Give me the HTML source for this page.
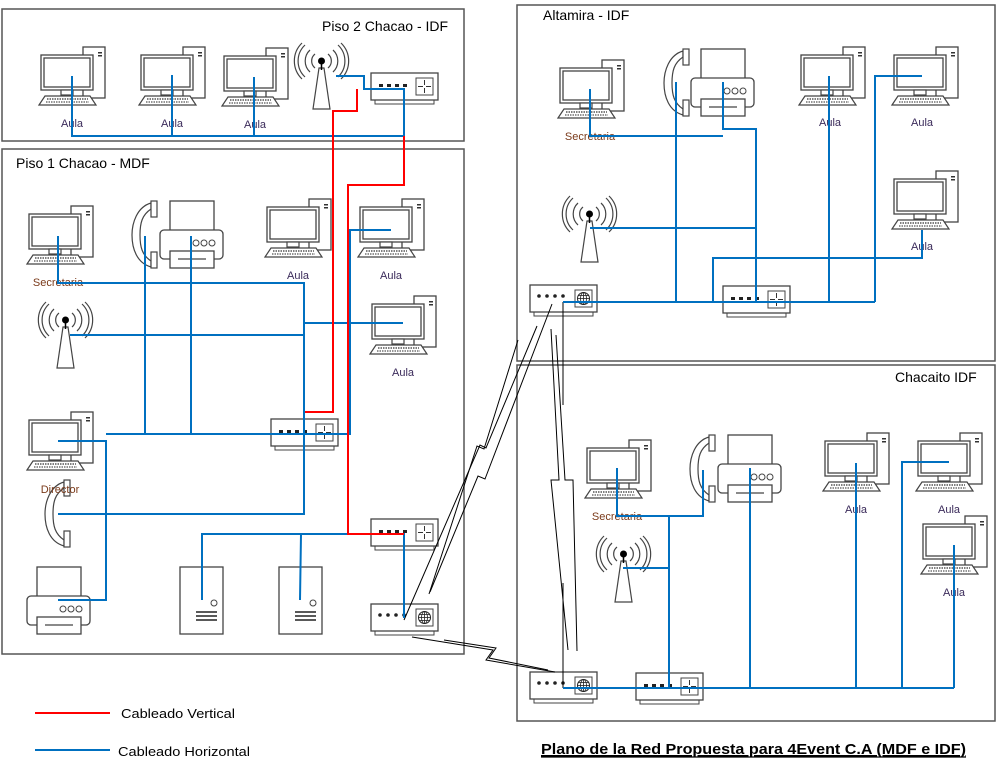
<!DOCTYPE html>
<html><head><meta charset="utf-8"><style>
html,body{margin:0;padding:0;background:#fff;}
svg{display:block;}
text{font-family:"Liberation Sans",sans-serif;}
</style></head><body>
<svg width="997" height="769" viewBox="0 0 997 769" xmlns="http://www.w3.org/2000/svg">
<defs>
<symbol id="pc" overflow="visible">
 <rect x="44" y="0" width="22" height="51" fill="#fff" stroke="#444" stroke-width="1.3"/>
 <rect x="59" y="5" width="4" height="1.5" fill="#333"/><rect x="59" y="8" width="4" height="1.5" fill="#333"/>
 <rect x="2" y="8" width="52" height="35" fill="#fff" stroke="#444" stroke-width="1.3"/>
 <rect x="5" y="11" width="46" height="29" fill="#fff" stroke="#444" stroke-width="1.3"/>
 <rect x="22" y="43" width="12" height="5" fill="#fff" stroke="#444" stroke-width="1.2"/>
 <polygon points="0,58 6,49 51,49 57,58" fill="#fff" stroke="#444" stroke-width="1.2"/>
 <line x1="8" y1="52" x2="49" y2="52" stroke="#555" stroke-width="1.5" stroke-dasharray="1.5,1"/>
 <line x1="7" y1="55" x2="50" y2="55" stroke="#555" stroke-width="1.2" stroke-dasharray="1.5,1"/>
</symbol>
<symbol id="printer" overflow="visible">
 <rect x="10" y="0" width="44" height="30" fill="#fff" stroke="#444" stroke-width="1.3"/>
 <rect x="0" y="29" width="63" height="29" rx="4" fill="#fff" stroke="#444" stroke-width="1.3"/>
 <circle cx="36" cy="42" r="3" fill="none" stroke="#444"/><circle cx="44" cy="42" r="3" fill="none" stroke="#444"/><circle cx="52" cy="42" r="3" fill="none" stroke="#444"/>
 <rect x="10" y="50" width="44" height="17" fill="#fff" stroke="#444" stroke-width="1.3"/>
 <line x1="18" y1="58" x2="46" y2="58" stroke="#444" stroke-width="1.3"/>
</symbol>
<symbol id="phone" overflow="visible">
 <path d="M19,2 C5,6 0,22 0,34 C0,48 5,62 19,66 L19,60 C10,54 8,46 8,34 C8,22 10,14 19,8 Z" fill="#fff" stroke="#444" stroke-width="1.2"/>
 <rect x="19" y="0" width="6" height="16" fill="#fff" stroke="#444" stroke-width="1.2"/>
 <rect x="19" y="51" width="6" height="16" fill="#fff" stroke="#444" stroke-width="1.2"/>
</symbol>
<symbol id="ant" overflow="visible">
 <polygon points="14,67 31,67 25,26 20,26" fill="#fff" stroke="#444" stroke-width="1.2"/>
 <line x1="22.5" y1="20" x2="22.5" y2="28" stroke="#000" stroke-width="1.5"/>
 <circle cx="22.5" cy="19" r="3.5" fill="#000"/>
 <g fill="none" stroke="#444" stroke-width="1.2">
 <path d="M16,12 A9,9 0 0 0 16,26"/><path d="M29,12 A9,9 0 0 1 29,26"/>
 <path d="M11,8 A15,15 0 0 0 11,30"/><path d="M34,8 A15,15 0 0 1 34,30"/>
 <path d="M6,3 A22,22 0 0 0 6,35"/><path d="M39,3 A22,22 0 0 1 39,35"/>
 <path d="M3,1 A25,25 0 0 0 3,37"/><path d="M42,1 A25,25 0 0 1 42,37"/>
 </g>
</symbol>
<symbol id="sw" overflow="visible">
 <rect x="4" y="27" width="59" height="4" fill="#fff" stroke="#444"/>
 <rect x="0" y="0" width="67" height="27" fill="#fff" stroke="#444" stroke-width="1.3"/>
 <g fill="#222"><rect x="8" y="11" width="4" height="3"/><rect x="16" y="11" width="4" height="3"/><rect x="24" y="11" width="4" height="3"/><rect x="32" y="11" width="4" height="3"/></g>
 <rect x="45" y="5" width="17" height="17" fill="#fff" stroke="#444"/>
 <g stroke="#333" stroke-width="1"><line x1="53.5" y1="7" x2="53.5" y2="12"/><line x1="53.5" y1="15" x2="53.5" y2="20"/><line x1="47" y1="13.5" x2="52" y2="13.5"/><line x1="55" y1="13.5" x2="60" y2="13.5"/></g>
</symbol>
<symbol id="rt" overflow="visible">
 <rect x="4" y="27" width="59" height="4" fill="#fff" stroke="#444"/>
 <rect x="0" y="0" width="67" height="27" fill="#fff" stroke="#444" stroke-width="1.3"/>
 <g fill="#222"><circle cx="9" cy="11" r="1.8"/><circle cx="17" cy="11" r="1.8"/><circle cx="25" cy="11" r="1.8"/><circle cx="33" cy="11" r="1.8"/></g>
 <rect x="45" y="5" width="17" height="17" fill="#fff" stroke="#444"/>
 <circle cx="53.5" cy="13.5" r="6" fill="#fff" stroke="#222"/>
 <g stroke="#222" stroke-width="0.8" fill="none"><line x1="47.5" y1="13.5" x2="59.5" y2="13.5"/><line x1="53.5" y1="7.5" x2="53.5" y2="19.5"/><ellipse cx="53.5" cy="13.5" rx="3" ry="6"/><line x1="48.5" y1="10.5" x2="58.5" y2="10.5"/><line x1="48.5" y1="16.5" x2="58.5" y2="16.5"/></g>
</symbol>
<symbol id="srv" overflow="visible">
 <rect x="0" y="0" width="43" height="67" fill="#fff" stroke="#444" stroke-width="1.3"/>
 <circle cx="34" cy="36" r="3" fill="none" stroke="#444"/>
 <g stroke="#222" stroke-width="1.5"><line x1="16" y1="45" x2="37" y2="45"/><line x1="16" y1="49" x2="37" y2="49"/><line x1="16" y1="53" x2="37" y2="53"/></g>
</symbol>
</defs>

<!-- boxes -->
<g fill="none" stroke="#555" stroke-width="1.5">
<rect x="2" y="9" width="462" height="132"/>
<rect x="2" y="149" width="462" height="505"/>
<rect x="517" y="5" width="478" height="356"/>
<rect x="517" y="365" width="478" height="356"/>
</g>
<g font-size="14" fill="#000">
<text x="322" y="31">Piso 2 Chacao - IDF</text>
<text x="16" y="168">Piso 1 Chacao - MDF</text>
<text x="543" y="20">Altamira - IDF</text>
<text x="895" y="382">Chacaito IDF</text>
</g>

<!-- devices -->
<use href="#pc" x="39" y="47"/><use href="#pc" x="139" y="47"/><use href="#pc" x="222" y="48"/>
<use href="#ant" x="299" y="42"/><use href="#sw" x="371" y="73"/>

<use href="#pc" x="27" y="206"/><use href="#phone" x="132" y="201"/><use href="#printer" x="160" y="201"/>
<use href="#pc" x="265" y="199"/><use href="#pc" x="358" y="199"/>
<use href="#ant" x="43" y="301"/><use href="#pc" x="370" y="296"/>
<use href="#pc" x="27" y="412"/><use href="#sw" x="271" y="419"/>
<use href="#phone" x="45" y="480"/><use href="#sw" x="371" y="519"/>
<use href="#printer" x="27" y="567"/><use href="#srv" x="180" y="567"/><use href="#srv" x="279" y="567"/>
<use href="#rt" x="371" y="604"/>

<use href="#pc" x="558" y="60"/><use href="#phone" x="664" y="49"/><use href="#printer" x="691" y="49"/>
<use href="#pc" x="799" y="47"/><use href="#pc" x="892" y="47"/>
<use href="#ant" x="567" y="195"/><use href="#pc" x="892" y="171"/>
<use href="#rt" x="530" y="285"/><use href="#sw" x="723" y="286"/>

<use href="#pc" x="585" y="440"/><use href="#phone" x="690" y="435"/><use href="#printer" x="718" y="435"/>
<use href="#pc" x="823" y="433"/><use href="#pc" x="916" y="433"/><use href="#pc" x="921" y="516"/>
<use href="#ant" x="601" y="535"/>
<use href="#rt" x="530" y="672"/><use href="#sw" x="636" y="673"/>

<!-- labels -->
<g font-size="11" fill="#3a2a5a" text-anchor="middle">
<text x="72" y="127">Aula</text><text x="172" y="127">Aula</text><text x="255" y="128">Aula</text>
<text x="58" y="286" fill="#7a3a1a">Secretaria</text><text x="298" y="279">Aula</text><text x="391" y="279">Aula</text>
<text x="403" y="376">Aula</text><text x="60" y="493" fill="#7a3a1a">Director</text>
<text x="590" y="140" fill="#7a3a1a">Secretaria</text><text x="830" y="126">Aula</text><text x="922" y="126">Aula</text><text x="922" y="250">Aula</text>
<text x="617" y="520" fill="#7a3a1a">Secretaria</text><text x="856" y="513">Aula</text><text x="949" y="513">Aula</text><text x="954" y="596">Aula</text>
</g>

<!-- lightning links -->
<g fill="none" stroke="#000" stroke-width="1">
<polyline points="404,620 480,445 486,448 537,326"/>
<polyline points="430,592 478,476 485,479 552,304"/>
<polyline points="429,594 477,446 484,449 518,340"/>
<polyline points="412,637 493,650 486,660 555,672"/>
<polyline points="444,640 496,648 489,658 548,670"/>
<polyline points="551,329 559,480 551,480 568,650"/>
<polyline points="556,335 565,480 573,480 577,651"/>
<line x1="563" y1="302" x2="563" y2="405"/>
<line x1="563" y1="583" x2="563" y2="688"/>
</g>

<!-- blue cabling -->
<g fill="none" stroke="#0070C0" stroke-width="2">
<polyline points="72,76 72,136 404,136"/><line x1="172" y1="75" x2="172" y2="136"/><line x1="254" y1="77" x2="254" y2="136"/>
<polyline points="336,76 364,76 364,89 404,89 404,136"/>
<polyline points="58,236 58,283 304,283 304,514 58,514"/>
<line x1="145" y1="236" x2="145" y2="434"/><line x1="191" y1="236" x2="191" y2="434"/>
<polyline points="70,335 304,335"/><polyline points="304,323 403,323"/>
<polyline points="58,441 106,441 106,600 58,600"/>
<polyline points="106,434 350,434 350,230 391,230"/>
<polyline points="300,600 301,534 404,534 404,618"/>
<polyline points="202,600 202,534 301,534"/>
<polyline points="590,89 590,136 723,136"/><polyline points="723,82 723,129 756,129 756,302"/>
<line x1="676" y1="82" x2="676" y2="302"/><polyline points="590,228 756,228"/>
<polyline points="713,302 713,258 922,258 922,230"/>
<line x1="829" y1="76" x2="829" y2="302"/><polyline points="922,76 875,76 875,302"/>
<line x1="563" y1="302" x2="875" y2="302"/>
<polyline points="617,468 617,516 703,516 703,470"/><line x1="669" y1="516" x2="669" y2="688"/>
<line x1="623" y1="568" x2="669" y2="568"/>
<line x1="750" y1="468" x2="750" y2="688"/><line x1="856" y1="463" x2="856" y2="688"/>
<polyline points="949,462 902,462 902,688"/><line x1="954" y1="545" x2="954" y2="688"/>
<line x1="563" y1="688" x2="954" y2="688"/>
</g>
<!-- red cabling -->
<g fill="none" stroke="#FF0000" stroke-width="2">
<polyline points="357,89 357,111 333,111 333,412 305,412"/>
<polyline points="404,136 404,185 348,185 348,534 404,534"/>
</g>

<!-- legend -->
<line x1="35" y1="713" x2="110" y2="713" stroke="#FF0000" stroke-width="2"/>
<line x1="35" y1="750" x2="110" y2="750" stroke="#0070C0" stroke-width="2"/>
<text x="121" y="718" font-size="13" textLength="114" lengthAdjust="spacingAndGlyphs" style="font-family:'Liberation Sans Narrow','Liberation Sans',sans-serif">Cableado Vertical</text>
<text x="118" y="756" font-size="13" textLength="132" lengthAdjust="spacingAndGlyphs" style="font-family:'Liberation Sans Narrow','Liberation Sans',sans-serif">Cableado Horizontal</text>
<text x="541" y="754" font-size="15" font-weight="bold" textLength="425" lengthAdjust="spacingAndGlyphs" text-decoration="underline" style="font-family:'Liberation Sans Narrow','Liberation Sans',sans-serif">Plano de la Red Propuesta para 4Event C.A (MDF e IDF)</text>
<line x1="541" y1="757" x2="966" y2="757" stroke="#000" stroke-width="1.2"/>
</svg>
</body></html>
